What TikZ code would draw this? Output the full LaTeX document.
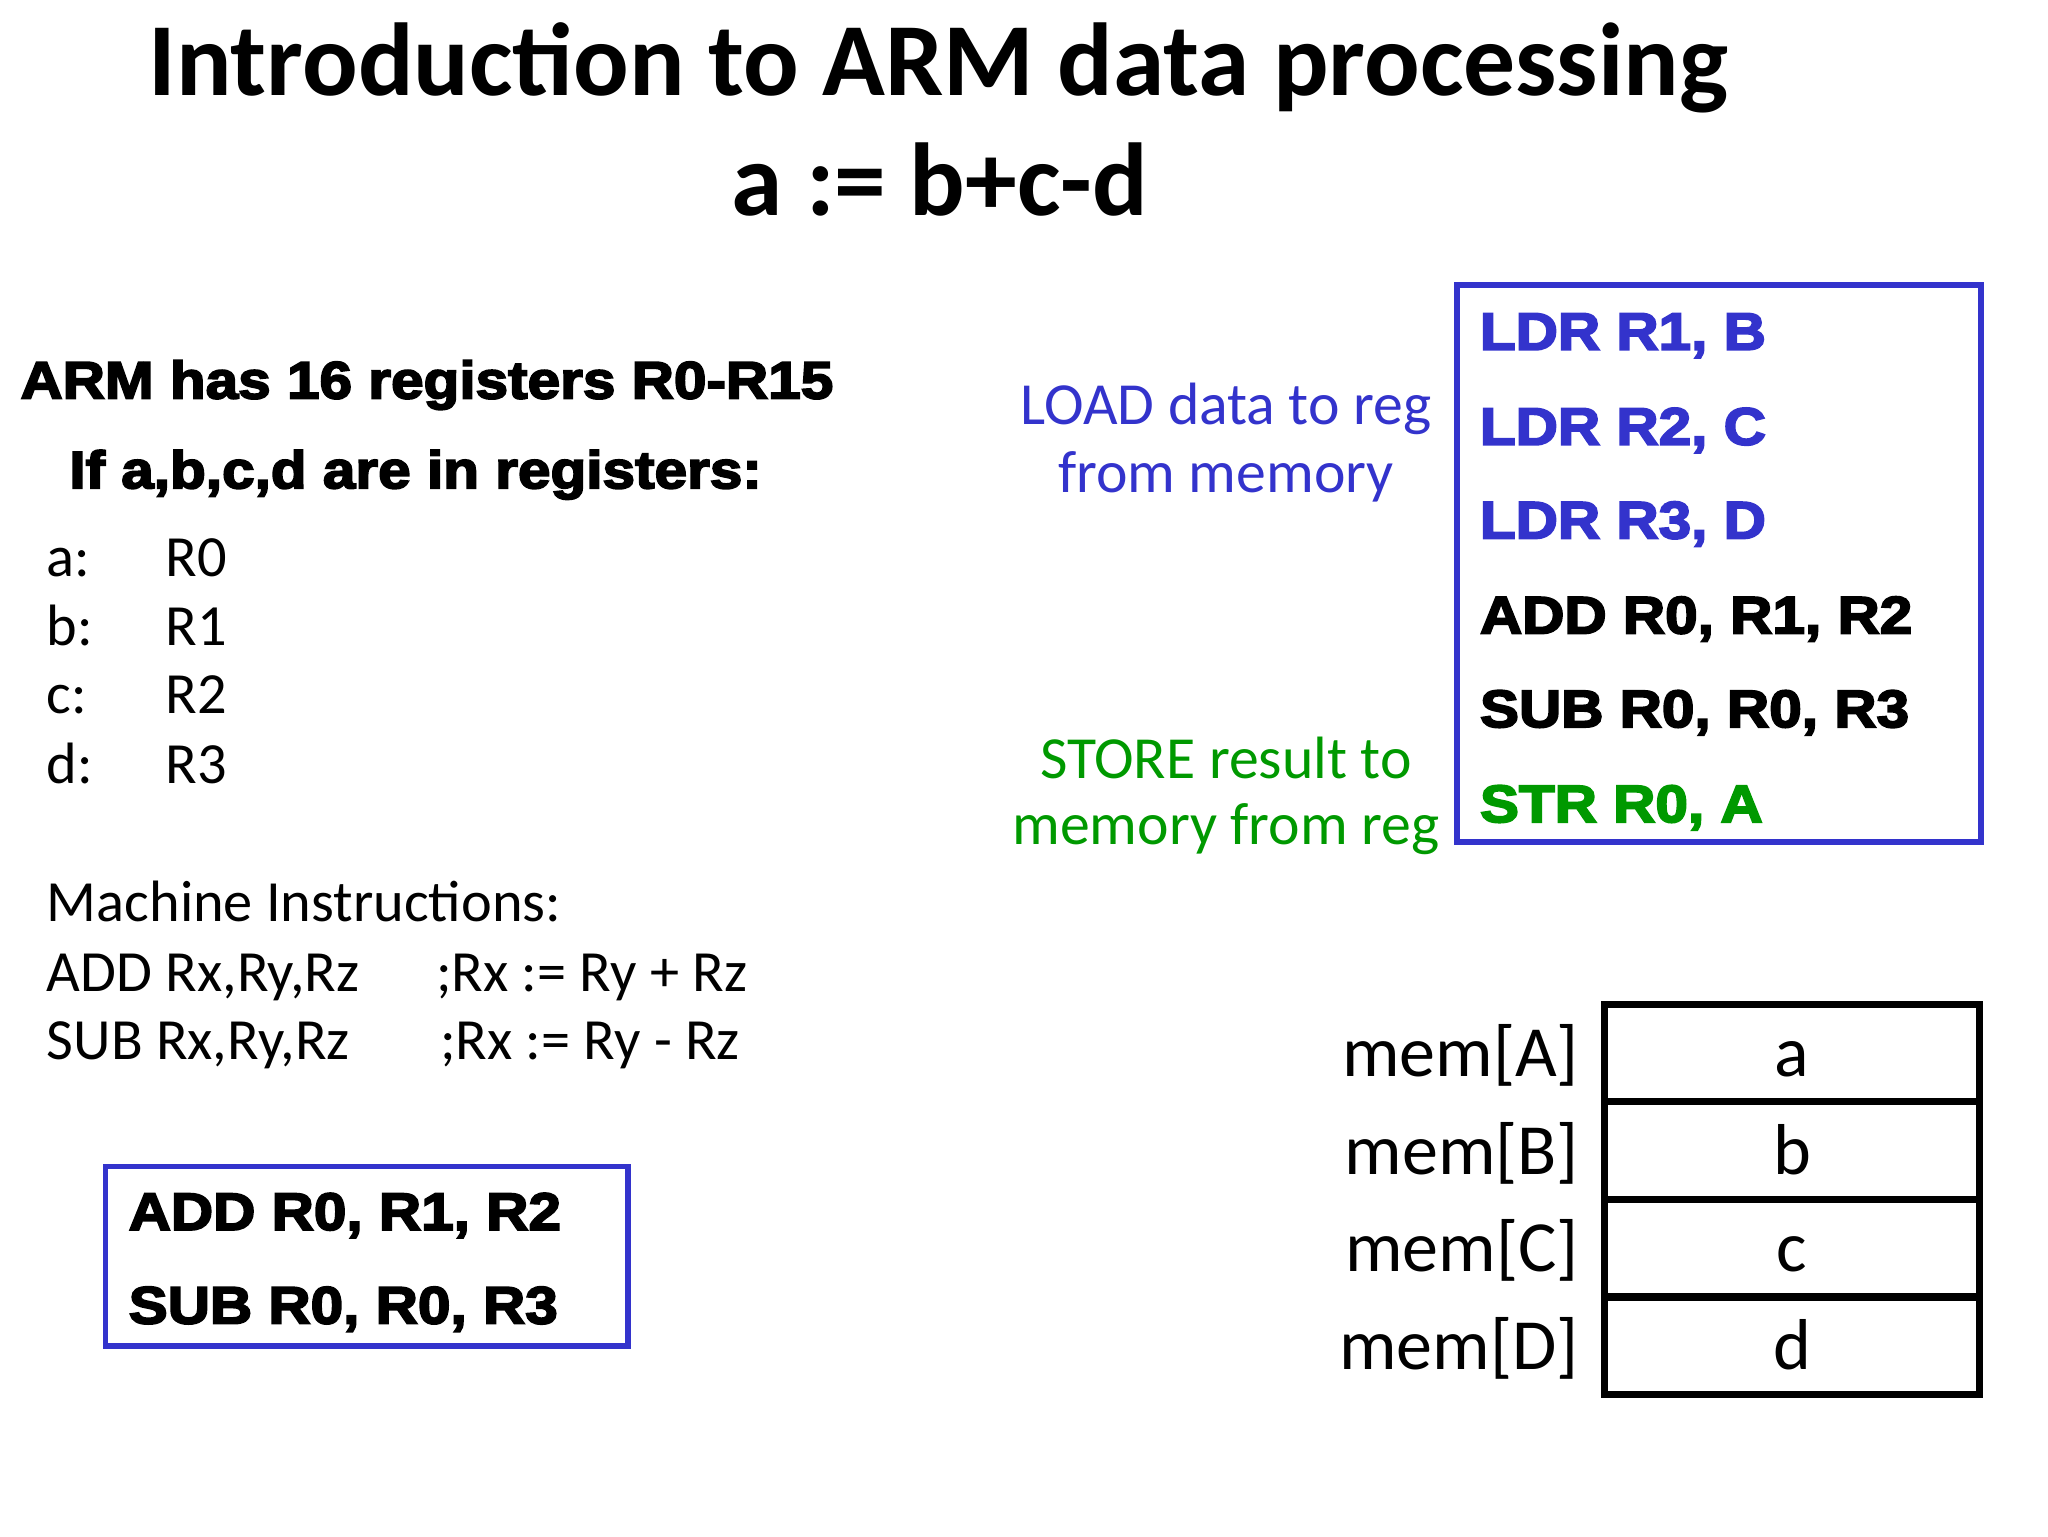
\documentclass[tikz,border=0pt]{standalone}
\usepackage{fontspec}
\setmainfont{Carlito}
\newfontfamily\blk[FakeBold=3.5,FakeStretch=1.11]{Liberation Sans}
\usetikzlibrary{positioning}
\definecolor{armblue}{RGB}{51,51,204}
\definecolor{armgreen}{RGB}{0,153,0}
\tikzset{
  txt/.style={anchor=base west,inner sep=0pt,font=\fontsize{16.6}{16}\selectfont},
  ins/.style={anchor=base west,inner sep=0pt,font=\blk\bfseries\fontsize{15}{15}\selectfont},
  note/.style={anchor=base,inner sep=0pt,font=\fontsize{17}{17}\selectfont},
  hdr/.style={anchor=base,inner sep=0pt,font=\bfseries\fontsize{29.5}{29.5}\selectfont},
  cell/.style={draw,line width=2pt,outer sep=0pt,minimum width=3.75cm,minimum height=0.976cm,
    text height=0.52cm,text depth=0.05cm,font=\fontsize{20.5}{20.5}\selectfont},
  memlbl/.style={inner sep=0pt,text height=0.52cm,text depth=0.05cm,font=\fontsize{20.5}{20.5}\selectfont}
}

\begin{document}
\begin{tikzpicture}[x=0.013196cm,y=-0.013196cm]
  \useasboundingbox (0,0) rectangle (1552,1164);
  % heading
  \node[hdr] (title) at (711,72) {Introduction to ARM data processing};
  \node[hdr] (expr) at (712,163) {a := b+c-d};
  % registers
  \node[ins] (nregs) at (15,302) {ARM has 16 registers R0-R15};
  \node[ins] (ifregs) at (52,370) {If a,b,c,d are in registers:};
  \foreach \v/\r/\y in {a/R0/437, b/R1/489, c/R2/541, d/R3/594}{
    \node[txt] (var\v) at (35,\y) {\v:};
    \node[txt] (reg\v) at (125,\y) {\r};}
  % instruction set
  \node[txt] (mach) at (35,698) {Machine Instructions:};
  \node[txt] (addfmt) at (35,751) {ADD Rx,Ry,Rz};
  \node[txt] (addsem) at (330,751) {;Rx := Ry + Rz};
  \node[txt] (subfmt) at (35,803) {SUB Rx,Ry,Rz};
  \node[txt] (subsem) at (333,803) {;Rx := Ry - Rz};
  \draw[armblue,line width=1.6pt] (80,884) rectangle (476,1020);
  \node[ins] (add1) at (97,932) {ADD R0, R1, R2};
  \node[ins] (sub1) at (97,1003) {SUB R0, R0, R3};
  % program
  \draw[armblue,line width=1.6pt] (1104,216) rectangle (1501,638);
  \foreach \y/\t/\c [count=\n] in {265/{LDR R1, B}/armblue, 337/{LDR R2, C}/armblue,
      408/{LDR R3, D}/armblue, 480/{ADD R0, R1, R2}/black, 551/{SUB R0, R0, R3}/black,
      623/{STR R0, A}/armgreen}
    \node[ins,text=\c] (prog\n) at (1121,\y) {\t};
  \node[note,armblue] (load1) at (929,322) {LOAD data to reg};
  \node[note,armblue] (load2) at (929,373) {from memory};
  \node[note,armgreen] (store1) at (929,590) {STORE result to};
  \node[note,armgreen] (store2) at (929,640) {memory from reg};
  % memory
  \node[cell] (memA) at (1358,798) {a};
  \node[cell,below=0pt of memA] (memB) {b};
  \node[cell,below=0pt of memB] (memC) {c};
  \node[cell,below=0pt of memC] (memD) {d};
  \foreach \m in {A,B,C,D}
    \node[memlbl,left=0.25cm of mem\m] (lbl\m) {mem[\m]};
\end{tikzpicture}
\end{document}
